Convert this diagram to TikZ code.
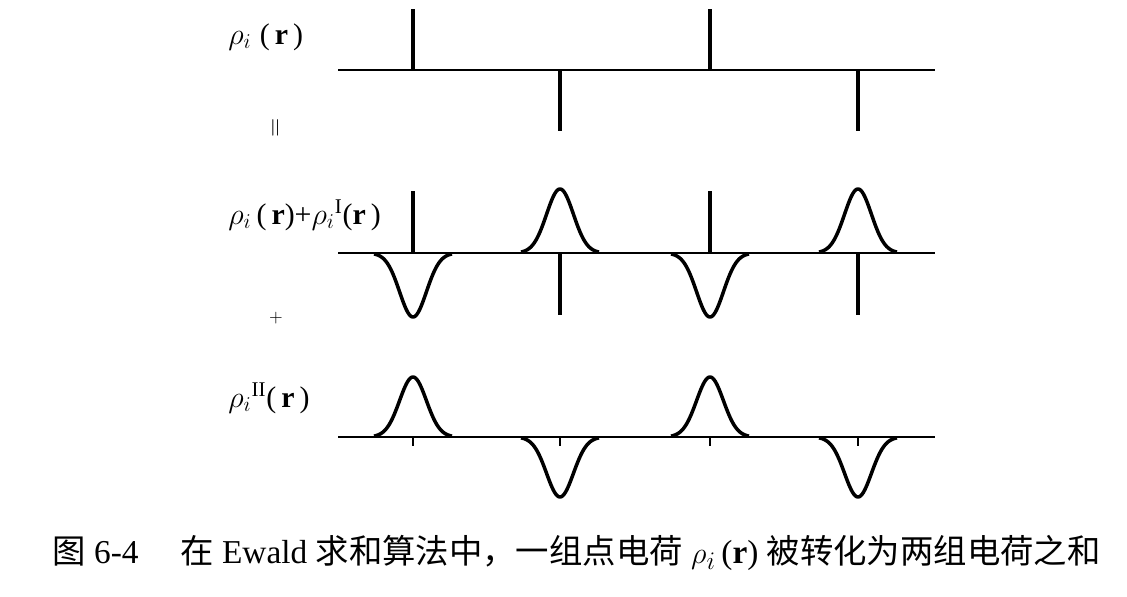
\documentclass[tikz,border=0pt]{standalone}
\usepackage{amsmath, amssymb}
\usepackage{fontspec}
\setmainfont{Liberation Serif}
\newfontfamily\cjk{Noto Sans CJK SC}
\usepackage{tikz}
\usetikzlibrary{positioning, calc}

\begin{document}
\begin{tikzpicture}[x=0.02cm, y=-0.02cm]
	 \tikzstyle{axis} = [draw, line width=1.1pt, black]
	 \tikzstyle{spike} = [draw, line width=2pt, black]
	 \tikzstyle{tick} = [draw, line width=0.8pt, black]
	 \tikzstyle{gauss} = [draw, line width=2pt, black, line join=round]
	 \tikzstyle{lbl} = [anchor=west, inner sep=0pt, font=\fontsize{17}{20}\selectfont]
	 \useasboundingbox[fill=white] (0,0) rectangle (1127,597);
	 % labels
	 \node[lbl] (l1) at (228,37) {$\rho_i$\;(\,\textbf{r}\,)};
	 \node[lbl] (l2) at (228,215) {$\rho_i$\,(\,\textbf{r})+$\rho_i{}^{\mathrm{I}}$(\textbf{r}\,)};
	 \node[lbl] (l3) at (228,398) {$\rho_i{}^{\mathrm{II}}$(\,\textbf{r}\,)};
	 \node[inner sep=0pt, rotate=90, font=\fontsize{14}{15}\selectfont] (eq) at (277,128) {$=$};
	 \node[inner sep=0pt, font=\fontsize{10}{11}\selectfont] (pl) at (276,318) {$+$};
	 % base lines
	 \coordinate (a1) at (338,70);  \coordinate (b1) at (935,70);
	 \coordinate (a2) at (338,253); \coordinate (b2) at (935,253);
	 \coordinate (a3) at (338,437); \coordinate (b3) at (935,437);
	 \draw[axis] (a1) -- (b1);
	 \draw[axis] (a2) -- (b2);
	 \draw[axis] (a3) -- (b3);
	 % point charges
	 \foreach \cx/\sg in {413/1,710/1,560/-1,858/-1}{
	 \draw[spike] (\cx,70) -- (\cx,{70-61*\sg});
	 \draw[spike] (\cx,253) -- (\cx,{253-62*\sg});
	 }
	 % screening charges
	 \foreach \cx/\sg in {413/-1,710/-1,560/1,858/1}{
	 \draw[gauss] plot[domain=-39:39, samples=61, smooth] ({\cx+\x},{253-64*\sg*exp(-(\x)*(\x)/360)});
	 }
	 % compensating charges
	 \foreach \cx/\sg in {413/1,710/1,560/-1,858/-1}{
	 \draw[gauss] plot[domain=-39:39, samples=61, smooth] ({\cx+\x},{437-60*\sg*exp(-(\x)*(\x)/360)});
	 \draw[tick] (\cx,437) -- (\cx,446);
	 }
	 % caption
	 \node[anchor=west, inner sep=0pt, font=\fontsize{19}{22}\selectfont] (cap) at (52,553)
	 {{\cjk 图} 6-4\quad\ {\cjk 在} Ewald {\cjk 求和算法中，一组点电荷} $\rho_i$\,(\textbf{r}) {\cjk 被转化为两组电荷之和}};
 \end{tikzpicture}
\end{document}
